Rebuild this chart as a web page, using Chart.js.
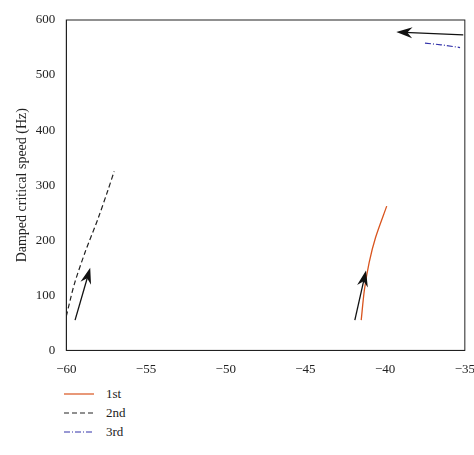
<!DOCTYPE html>
<html><head>
<script src="https://cdn.jsdelivr.net/npm/chart.js@4/dist/chart.umd.min.js"></script>
<style>
body{margin:0;background:#fff;font-family:"Liberation Serif",serif;}
#wrap{position:relative;width:478px;height:380px;}
#legend{margin-left:64px;margin-top:4px;font-size:13px;color:#222;}
.li{display:flex;align-items:center;height:19px;}
.li svg{margin-right:12px;}
</style>
</head><body>
<div id="wrap"><canvas id="c"></canvas></div>
<div id="legend">
 <div class="li"><svg width="30" height="4"><line x1="0" y1="2" x2="30" y2="2" stroke="#d9541e" stroke-width="1.2"/></svg>1st</div>
 <div class="li"><svg width="30" height="4"><line x1="0" y1="2" x2="30" y2="2" stroke="#222" stroke-width="1.2" stroke-dasharray="5,3"/></svg>2nd</div>
 <div class="li"><svg width="30" height="4"><line x1="0" y1="2" x2="30" y2="2" stroke="#3333aa" stroke-width="1.2" stroke-dasharray="6,2,1,2"/></svg>3rd</div>
</div>
<script>
// damping (x) vs critical speed (y)
const first = [{x:-41.5,y:55},{x:-41.3,y:110},{x:-41.0,y:160},{x:-40.6,y:205},{x:-39.9,y:262}];
const second = [{x:-60,y:62},{x:-59.5,y:120},{x:-58.8,y:180},{x:-58.0,y:240},{x:-57.4,y:290},{x:-57.0,y:325}];
const third = [{x:-37.5,y:558},{x:-36.5,y:555},{x:-35.3,y:550}];
// arrows: [fromX, fromY, toX, toY]
const arrows = [[-59.45,55,-58.5,150],[-41.9,55,-41.2,145],[-35.1,573,-39.3,578]];

const arrowPlugin = {
  id: 'arrows',
  afterDatasetsDraw(chart) {
    const {ctx, scales:{x, y}} = chart;
    ctx.save();
    ctx.strokeStyle = '#111'; ctx.fillStyle = '#111'; ctx.lineWidth = 1.3;
    arrows.forEach(a => {
      const x0 = x.getPixelForValue(a[0]), y0 = y.getPixelForValue(a[1]);
      const x1 = x.getPixelForValue(a[2]), y1 = y.getPixelForValue(a[3]);
      const ang = Math.atan2(y1 - y0, x1 - x0);
      ctx.beginPath(); ctx.moveTo(x0, y0); ctx.lineTo(x1 - 8*Math.cos(ang), y1 - 8*Math.sin(ang)); ctx.stroke();
      ctx.beginPath();
      ctx.moveTo(x1, y1);
      ctx.lineTo(x1 - 17*Math.cos(ang - 0.33), y1 - 17*Math.sin(ang - 0.33));
      ctx.lineTo(x1 - 11*Math.cos(ang), y1 - 11*Math.sin(ang));
      ctx.lineTo(x1 - 17*Math.cos(ang + 0.33), y1 - 17*Math.sin(ang + 0.33));
      ctx.closePath(); ctx.fill();
    });
    ctx.restore();
  }
};

const tickFont = {family:'Liberation Serif',size:13};
new Chart(document.getElementById('c'), {
  type: 'scatter',
  data: {datasets: [
    {label:'1st', data:first, showLine:true, borderColor:'#d9541e', borderWidth:1.3, pointRadius:0, tension:0.3},
    {label:'2nd', data:second, showLine:true, borderColor:'#222', borderWidth:1.2, borderDash:[5,3], pointRadius:0, tension:0.3},
    {label:'3rd', data:third, showLine:true, borderColor:'#3333aa', borderWidth:1.2, borderDash:[6,2,1,2], pointRadius:0}
  ]},
  options: {
    responsive:true, maintainAspectRatio:false, animation:false,
    layout:{padding:{top:20,right:0,left:12}},
    plugins:{legend:{display:false}, tooltip:{enabled:false}},
    scales:{
      x:{min:-60,max:-35,
         ticks:{stepSize:5,color:'#222',font:tickFont,callback:v=>String(v).replace('-','\u2212')},
         grid:{display:false}, border:{color:'#222'}},
      y:{min:0,max:600,
         ticks:{stepSize:100,color:'#222',font:tickFont},
         grid:{display:false}, border:{color:'#222'},
         title:{display:true,text:'Damped critical speed (Hz)',color:'#222',font:{family:'Liberation Serif',size:14},padding:2}}
    }
  },
  plugins:[arrowPlugin, {
    id:'box',
    afterDraw(chart){
      const {ctx, chartArea:a} = chart;
      ctx.save(); ctx.strokeStyle='#222'; ctx.lineWidth=1;
      ctx.strokeRect(a.left, a.top, a.right-a.left, a.bottom-a.top);
      ctx.restore();
    }
  }]
});
</script>
</body></html>
